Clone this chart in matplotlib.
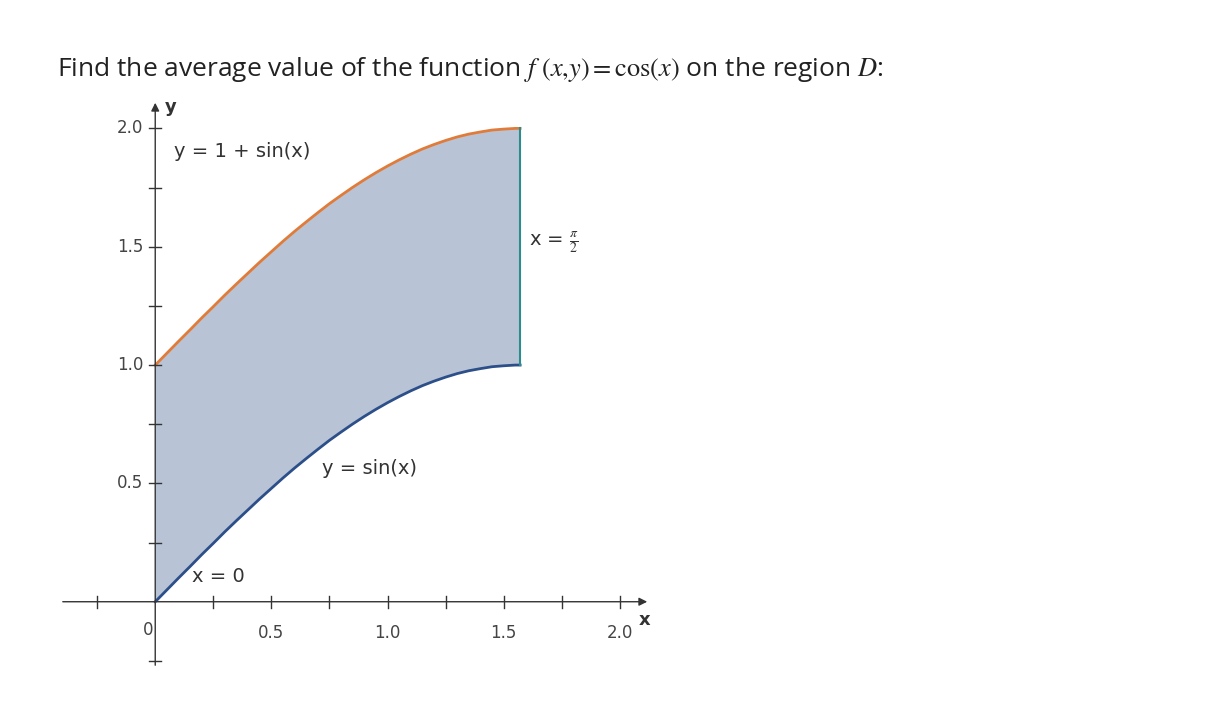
import matplotlib
matplotlib.use("Agg")
import matplotlib.pyplot as plt
import numpy as np

plt.rcParams["mathtext.fontset"] = "stix"

xs = [0, 0.05, 0.1, 0.15, 0.2, 0.25, 0.3, 0.35, 0.4, 0.45, 0.5, 0.55, 0.6, 0.65, 0.7, 0.75,
      0.8, 0.85, 0.9, 0.95, 1.0, 1.05, 1.1, 1.15, 1.2, 1.25, 1.3, 1.35, 1.4, 1.45, 1.5, 1.55, 1.5708]
lower = [0, 0.050, 0.100, 0.149, 0.199, 0.247, 0.296, 0.343, 0.389, 0.435, 0.479, 0.523, 0.565,
         0.605, 0.644, 0.682, 0.717, 0.751, 0.783, 0.813, 0.841, 0.867, 0.891, 0.913, 0.932,
         0.949, 0.964, 0.976, 0.985, 0.993, 0.997, 1.000, 1.000]
upper = [1 + v for v in lower]
xticklabels = ["0.5", "1.0", "1.5", "2.0"]
yticklabels = ["0.5", "1.0", "1.5", "2.0"]

W, H = 1206, 718
fig = plt.figure(figsize=(W/100, H/100), dpi=100)
fig.text(57/W, 1-70/H, r"Find the average value of the function $f\ (x{,}y) = \mathrm{cos}(x)$ on the region $D$:",
         fontsize=19, family="Open Sans", va="center", color="#222")

x0, x1 = -0.41, 2.13
y0, y1 = -0.28, 2.12
ax = fig.add_axes([60/W, 50/H, 590/W, 568/H])
ax.set_xlim(x0, x1); ax.set_ylim(y0, y1)
ax.axis("off")

ax.fill_between(xs, lower, upper, color="#b8c4d6", lw=0)
ax.plot(xs, upper, color="#e07b39", lw=2)
ax.plot(xs, lower, color="#2c4f8a", lw=2)
ax.plot([xs[-1], xs[-1]], [lower[-1], upper[-1]], color="#2a8c8c", lw=1.5)

k = dict(color="#333", lw=1)
ax.annotate("", xy=(2.13, 0), xytext=(-0.41, 0), arrowprops=dict(arrowstyle="-|>", color="#333", lw=1, mutation_scale=12))
ax.annotate("", xy=(0, 2.12), xytext=(0, -0.28), arrowprops=dict(arrowstyle="-|>", color="#333", lw=1, mutation_scale=12))
for t in np.arange(-0.25, 2.01, 0.25):
    if abs(t) > 1e-9:
        ax.plot([t, t], [-0.025, 0.025], **k)
        ax.plot([-0.025, 0.025], [t, t], **k)
for i, s in enumerate(xticklabels):
    ax.text(0.5*(i+1), -0.13, s, ha="center", va="center", fontsize=12, color="#444")
for i, s in enumerate(yticklabels):
    ax.text(-0.05, 0.5*(i+1), s, ha="right", va="center", fontsize=12, color="#444")
ax.text(-0.03, -0.12, "0", ha="center", va="center", fontsize=12, color="#444")
ax.text(0.04, 2.07, "y", fontsize=13, color="#333", fontweight="bold")
ax.text(2.08, -0.10, "x", fontsize=13, color="#333", fontweight="bold")

ax.text(0.08, 1.88, "y = 1 + sin(x)", fontsize=14, color="#333")
ax.text(0.72, 0.54, "y = sin(x)", fontsize=14, color="#333")
ax.text(0.16, 0.085, "x = 0", fontsize=14, color="#333")
ax.text(1.61, 1.52, r"x = $\frac{\pi}{2}$", fontsize=14, color="#333", va="center")

fig.savefig("out.png", dpi=100)
